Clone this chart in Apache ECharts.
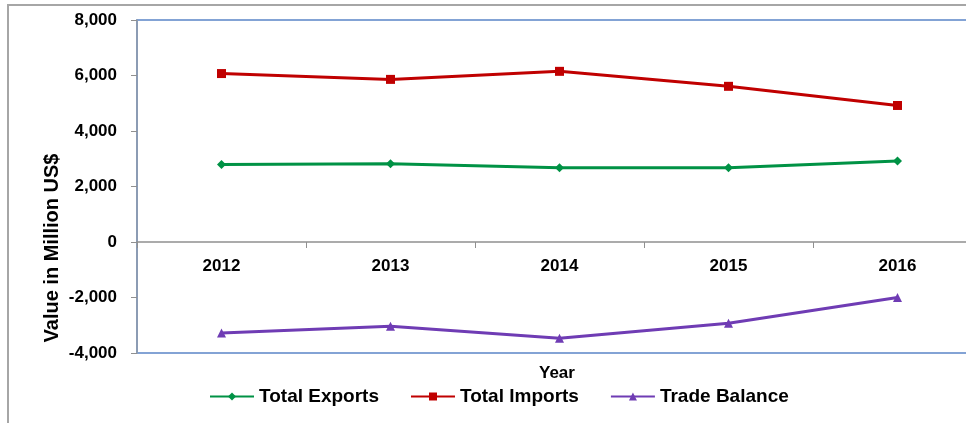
<!DOCTYPE html>
<html>
<head>
<meta charset="utf-8">
<script src="https://cdn.jsdelivr.net/npm/echarts@6/dist/echarts.min.js"></script>
<style>
  html, body { margin: 0; padding: 0; background: #fff; }
  #chart { width: 966px; height: 423px; }
</style>
</head>
<body>
<div id="chart"></div>
<script>
const years = ['2012', '2013', '2014', '2015', '2016'];
const totalExports = [2790, 2820, 2680, 2680, 2920];
const totalImports = [6070, 5860, 6150, 5610, 4920];
const tradeBalance = [-3280, -3040, -3470, -2930, -2000];

const chart = echarts.init(document.getElementById('chart'));
const font = 'Liberation Sans, Arial, sans-serif';

const lineSeries = (name, data, color, symbol, size) => ({
  name,
  type: 'line',
  data,
  symbol,
  symbolSize: size,
  lineStyle: { color, width: 3 },
  itemStyle: { color },
});

chart.setOption({
  animation: false,
  textStyle: { fontFamily: font },
  graphic: [
    {
      type: 'polyline',
      shape: { points: [[8, 423], [8, 5], [966, 5]] },
      style: { stroke: '#a6a6a6', lineWidth: 2, fill: null },
    },
    {
      type: 'text',
      left: 539,
      top: 365,
      style: { text: 'Year', font: 'bold 17px ' + font, fill: '#000' },
    },
    {
      type: 'text',
      x: 52,
      y: 248,
      rotation: Math.PI / 2,
      style: {
        text: 'Value in Million US$',
        font: 'bold 20px ' + font,
        fill: '#000',
        align: 'center',
        verticalAlign: 'middle',
      },
    },
  ],
  grid: {
    left: 137,
    top: 20,
    width: 845,
    height: 333,
    outerBoundsMode: 'none',
    containLabel: false,
    show: true,
    borderColor: '#5b85c8',
    borderWidth: 1.5,
  },
  legend: {
    left: 204,
    top: 382,
    itemWidth: 44,
    itemHeight: 10,
    itemGap: 31,
    textStyle: { fontFamily: font, fontWeight: 'bold', fontSize: 19, color: '#000' },
    data: ['Total Exports', 'Total Imports', 'Trade Balance'],
  },
  xAxis: {
    type: 'category',
    data: years,
    // category axis sits on the zero line of the value axis
    offset: -111,
    axisLine: { onZero: false, lineStyle: { color: '#909090', width: 1.5 } },
    axisTick: { show: true, length: 6, lineStyle: { color: '#909090' } },
    axisLabel: {
      margin: 16,
      fontFamily: font,
      fontWeight: 'bold',
      fontSize: 17,
      color: '#000',
    },
    splitLine: { show: false },
  },
  yAxis: {
    type: 'value',
    min: -4000,
    max: 8000,
    interval: 2000,
    axisLine: { show: true, lineStyle: { color: '#8c9cb4', width: 2 } },
    axisTick: { show: true, length: 6, lineStyle: { color: '#909090' } },
    axisLabel: {
      margin: 20,
      fontFamily: font,
      fontWeight: 'bold',
      fontSize: 17,
      color: '#000',
      formatter: (v) => v.toLocaleString('en-US'),
    },
    splitLine: { show: false },
  },
  series: [
    lineSeries('Total Exports', totalExports, '#009245', 'diamond', 9),
    lineSeries('Total Imports', totalImports, '#c00000', 'rect', 9),
    lineSeries('Trade Balance', tradeBalance, '#6f3cb4', 'triangle', 9),
  ],
});
</script>
</body>
</html>
